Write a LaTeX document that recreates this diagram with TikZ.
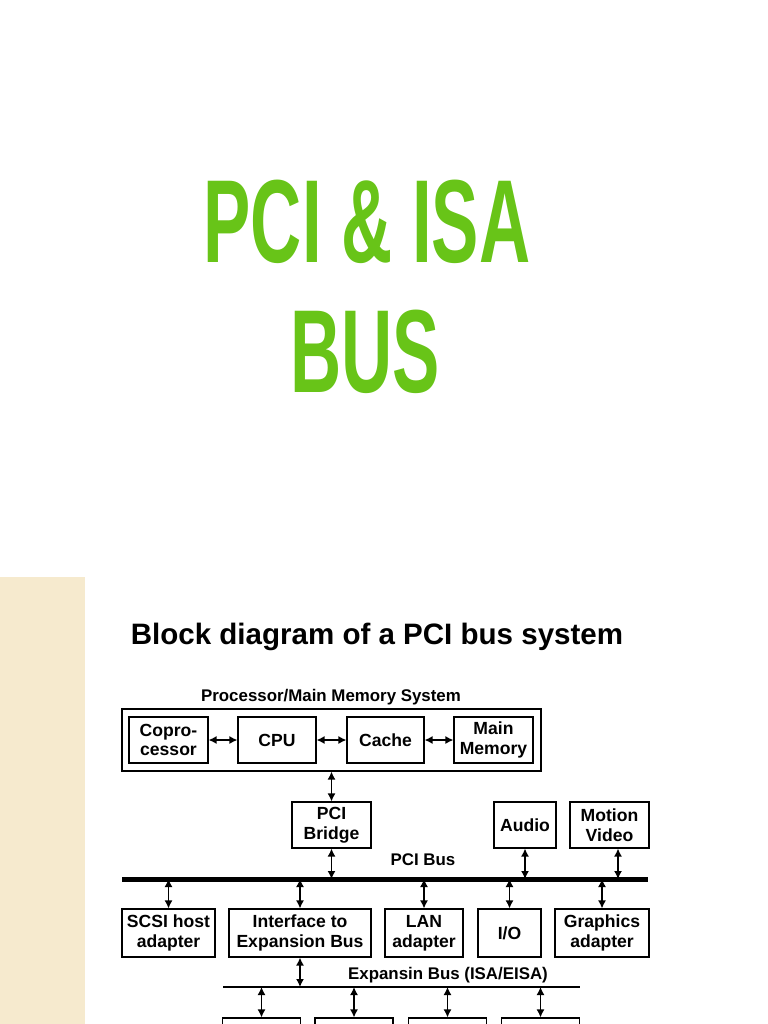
\documentclass[tikz,border=0pt]{standalone}
\usepackage{fontspec}
\setmainfont{Liberation Sans}
\usepackage{graphicx}
\usetikzlibrary{arrows.meta}
\newlength\px
\setlength\px{0.025cm}
\definecolor{titlegreen}{RGB}{104,196,24}
\definecolor{strip}{RGB}{246,234,206}
\begin{document}
\begin{tikzpicture}[
  x=0.025cm, y=-0.025cm,
  blk/.style={draw, thick, align=center, inner sep=0pt, font=\bfseries\fontsize{12.5}{14}\selectfont},
  arr/.style={line width=1pt, {Latex[length=2mm,width=2mm]}-{Latex[length=2mm,width=2mm]}},
  lbl/.style={font=\bfseries\fontsize{12}{13}\selectfont},
  big/.style={font=\bfseries\fontsize{84}{84}\selectfont, inner sep=0pt}
]
\useasboundingbox (0,0) rectangle (768,1024);
\clip (0,0) rectangle (768,1024);
\fill[strip] (0,577) rectangle (85,1024);

% title
\node[big, text=titlegreen] (pciisa) at (367,222) {\scalebox{0.6}[1]{PCI \& ISA}};
\node[big, text=titlegreen] (busword) at (365,352) {\scalebox{0.6}[1]{BUS}};

% block diagram
\node[font=\bfseries\fontsize{21}{23}\selectfont] (head) at (377,637) {Block diagram of a PCI bus system};
\node[lbl] (pmlbl) at (331,697) {Processor/Main Memory System};
\node[draw, thick, minimum width=419\px, minimum height=62\px] (pms) at (331.5,740) {};

\node[blk, minimum width=79\px, minimum height=46\px] (copro) at (168.5,740) {Copro-\\cessor};
\node[blk, minimum width=78\px, minimum height=46\px] (cpu) at (277,740) {CPU};
\node[blk, minimum width=77\px, minimum height=46\px] (cache) at (385.5,740) {Cache};
\node[blk, minimum width=79\px, minimum height=46\px] (mem) at (493.5,740) {Main\\Memory};

\node[blk, minimum width=79\px, minimum height=46\px] (bridge) at (331.5,825) {PCI\\Bridge};
\node[blk, minimum width=62\px, minimum height=46\px] (audio) at (525,825) {Audio};
\node[blk, minimum width=79\px, minimum height=46\px] (video) at (609.5,825) {Motion\\Video};

\coordinate (pcibus) at (0,879);
\draw[line width=5\px] (122,879) -- (648,879);
\node[lbl] (pcilbl) at (423,860) {PCI Bus};

\node[blk, minimum width=93\px, minimum height=48\px] (scsi) at (168.5,933) {SCSI host\\adapter};
\node[blk, minimum width=142\px, minimum height=48\px] (iface) at (300,933) {Interface to\\Expansion Bus};
\node[blk, minimum width=78\px, minimum height=48\px] (lan) at (424,933) {LAN\\adapter};
\node[blk, minimum width=63\px, minimum height=48\px] (io) at (509.5,933) {I/O};
\node[blk, minimum width=94\px, minimum height=48\px] (gfx) at (602,933) {Graphics\\adapter};

\coordinate (expbus) at (0,987);
\draw[thick] (223,987) -- (580,987);
\node[lbl] (explbl) at (448,975) {Expansin Bus (ISA/EISA)};

\foreach \n/\x in {isa1/261.5, isa2/354, isa3/447.5, isa4/540.5}
  \node[blk, minimum width=78\px, minimum height=30\px] (\n) at (\x,1033) {};

% connectors
\draw[arr] (copro) -- (cpu);
\draw[arr] (cpu) -- (cache);
\draw[arr] (cache) -- (mem);
\draw[arr] (pms.south -| bridge) -- (bridge);
\foreach \n in {bridge, audio}
  \draw[arr] (\n) -- (\n |- pcibus);
\draw[arr] ([xshift=8.5\px]video.south) -- ([xshift=8.5\px]video.south |- pcibus);
\foreach \n in {scsi, iface, lan, io, gfx}
  \draw[arr] (\n |- pcibus) -- (\n);
\draw[arr] (iface) -- (iface |- expbus);
\foreach \n in {isa1, isa2, isa3, isa4}
  \draw[arr] (\n |- expbus) -- (\n);
\end{tikzpicture}
\end{document}
